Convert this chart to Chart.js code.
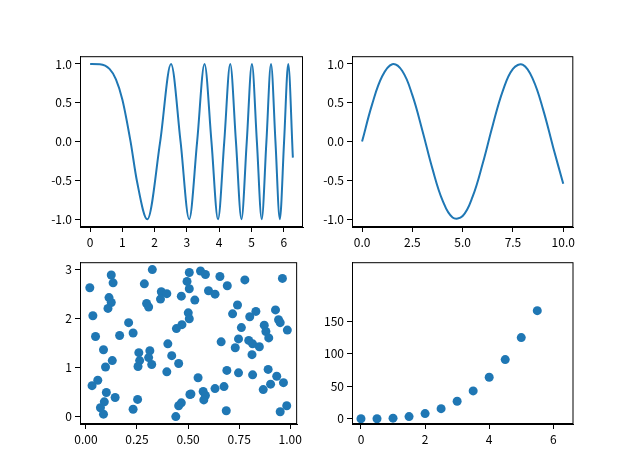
<!DOCTYPE html>
<html>
<head>
<meta charset="utf-8">
<script src="https://cdn.jsdelivr.net/npm/chart.js@4"></script>
<style>
  body { margin: 0; background: #fff; }
  #fig { position: relative; width: 640px; height: 476px; }
  #fig canvas { position: absolute; }
</style>
</head>
<body>
<div id="fig">
  <canvas id="chirp"></canvas>
  <canvas id="sine"></canvas>
  <canvas id="rand"></canvas>
  <canvas id="cube"></canvas>
</div>
<script>
"use strict";

// cos(x^2), read at its extrema and zero crossings
const chirpX = [0, 0.3, 0.6, 0.8, 1.0, 1.2533, 1.45, 1.7725, 2.1708, 2.5066, 2.8025, 3.0700, 3.3160, 3.5449,
    3.7599, 3.9633, 4.1568, 4.3416, 4.5189, 4.6895, 4.8541, 5.0133, 5.1676, 5.3174, 5.4631, 5.6050,
    5.7434, 5.8785, 6.0106, 6.1400, 6.2832];
const chirpY = [1, 0.996, 0.936, 0.802, 0.540, 0, -0.507, -1, 0, 1, 0, -1, 0, 1,
    0, -1, 0, 1, 0, -1, 0, 1, 0, -1, 0, 1,
    0, -1, 0, 1, -0.207];

// sin(x) sampled every 0.5
const sineX = [0, 0.5, 1, 1.5, 2, 2.5, 3, 3.5, 4, 4.5, 5, 5.5, 6, 6.5, 7, 7.5, 8, 8.5, 9, 9.5, 10];
const sineY = [0, 0.479, 0.841, 0.997, 0.909, 0.598, 0.141, -0.351, -0.757, -0.978, -0.959, -0.706,
    -0.279, 0.215, 0.657, 0.938, 0.989, 0.798, 0.412, -0.075, -0.544];

// scatter points
const randX = [0.019, 0.124, 0.133, 0.325, 0.286, 0.113, 0.124, 0.108, 0.034, 0.297, 0.307, 0.369, 0.396, 0.365,
    0.467, 0.506, 0.495, 0.506, 0.501, 0.506, 0.470, 0.443, 0.209, 0.231, 0.165, 0.047, 0.086, 0.129, 0.096,
    0.259, 0.313, 0.263, 0.307, 0.255, 0.322, 0.401, 0.420, 0.454, 0.396, 0.058, 0.030, 0.100, 0.143, 0.090,
    0.071, 0.086, 0.253, 0.231, 0.467, 0.454, 0.440, 0.509, 0.561, 0.585, 0.656, 0.692, 0.778, 0.962, 0.600,
    0.632, 0.533, 0.742, 0.718, 0.832, 0.802, 0.928, 0.943, 0.951, 0.986, 0.761, 0.873, 0.881, 0.895, 0.747,
    0.797, 0.816, 0.849, 0.731, 0.813, 0.662, 0.690, 0.747, 0.816, 0.892, 0.934, 0.904, 0.967, 0.868, 0.549,
    0.676, 0.632, 0.574, 0.585, 0.577, 0.514, 0.687, 0.951, 0.983];
const randY = [2.62, 2.88, 2.72, 2.99, 2.70, 2.42, 2.32, 2.20, 2.05, 2.30, 2.23, 2.54, 2.50, 2.39,
    2.45, 2.93, 2.75, 2.60, 2.11, 1.99, 1.87, 1.79, 1.91, 1.70, 1.65, 1.63, 1.36, 1.14, 1.01,
    1.30, 1.34, 1.14, 1.20, 1.02, 1.06, 1.48, 1.24, 1.08, 0.91, 0.74, 0.63, 0.49, 0.39, 0.30,
    0.18, 0.05, 0.35, 0.15, 0.28, 0.22, 0.00, 0.45, 2.96, 2.89, 2.85, 2.66, 2.78, 2.81, 2.56,
    2.49, 2.37, 2.27, 2.09, 2.14, 2.03, 2.17, 1.97, 1.91, 1.76, 1.81, 1.86, 1.73, 1.60, 1.58,
    1.55, 1.48, 1.42, 1.40, 1.26, 1.52, 0.94, 0.89, 0.85, 0.96, 0.82, 0.66, 0.69, 0.55, 0.79,
    0.61, 0.57, 0.51, 0.43, 0.34, 0.46, 0.12, 0.10, 0.22];

// cubes
const cubeX = [0, 0.5, 1, 1.5, 2, 2.5, 3, 3.5, 4, 4.5, 5, 5.5];
const cubeY = [0, 0.125, 1, 3.375, 8, 15.625, 27, 42.875, 64, 91.125, 125, 166.375];

// tick labels
const chirpXTicks = [0, 1, 2, 3, 4, 5, 6];
const unitYTicks = [-1, -0.5, 0, 0.5, 1];
const sineXTicks = [0, 2.5, 5, 7.5, 10];
const randXTicks = [0, 0.25, 0.5, 0.75, 1];
const randYTicks = [0, 1, 2, 3];
const cubeXTicks = [0, 2, 4, 6];
const cubeYTicks = [0, 50, 100, 150];

const BLUE = '#1f77b4';
const Y_AXIS_W = 40;
const X_AXIS_H = 26;
const PAD = 2;

Chart.defaults.font.family = '"Noto Sans CJK SC", "DejaVu Sans", sans-serif';
Chart.defaults.font.size = 12;
Chart.defaults.color = '#000';
Chart.defaults.animation = false;

const framePlugin = {
    id: 'frame',
    afterDraw(chart) {
        const a = chart.chartArea, ctx = chart.ctx;
        ctx.save();
        ctx.strokeStyle = '#000';
        ctx.lineWidth = 1;
        ctx.strokeRect(a.left + 0.5, a.top + 0.5, a.right - a.left - 1, a.bottom - a.top - 1);
        ctx.restore();
    }
};

function pts(xs, ys) {
    return xs.map((x, i) => ({ x: x, y: ys[i] }));
}

function axis(min, max, ticks, fmt, isY) {
    return {
        type: 'linear',
        min: min,
        max: max,
        afterBuildTicks: s => { s.ticks = ticks.map(v => ({ value: v })); },
        afterFit: s => { if (isY) s.width = Y_AXIS_W; else s.height = X_AXIS_H; },
        grid: { drawOnChartArea: false, drawTicks: true, tickLength: 5, color: '#000' },
        border: { display: true, color: '#000' },
        ticks: { padding: 3, maxRotation: 0, autoSkip: false, callback: v => fmt(v) }
    };
}

// size and place a canvas so that its plot area lands on the given box
function place(id, left, top, w, h) {
    const el = document.getElementById(id);
    el.style.left = (left - Y_AXIS_W) + 'px';
    el.style.top = (top - PAD) + 'px';
    el.width = w + Y_AXIS_W + PAD;
    el.height = h + X_AXIS_H + PAD;
}

function plot(canvasId, datasets, xAxis, yAxis) {
    new Chart(document.getElementById(canvasId), {
        type: 'scatter',
        data: { datasets: datasets },
        options: {
            responsive: false,
            devicePixelRatio: 1,
            layout: { padding: { top: PAD, right: PAD, left: 0, bottom: 0 } },
            plugins: { legend: { display: false }, tooltip: { enabled: false } },
            scales: { x: xAxis, y: yAxis }
        },
        plugins: [framePlugin]
    });
}

const dotStyle = { backgroundColor: BLUE, borderColor: BLUE, pointRadius: 4.5, borderWidth: 0 };
const lineBase = { showLine: true, borderColor: BLUE, borderWidth: 2, pointRadius: 0 };

place('chirp', 80, 48, 223, 179);
place('sine', 352, 48, 224, 179);
place('rand', 80, 254, 223, 170);
place('cube', 352, 254, 224, 170);

plot('chirp', [Object.assign({ data: pts(chirpX, chirpY), cubicInterpolationMode: 'monotone' }, lineBase)],
    axis(-0.314, 6.597, chirpXTicks, v => String(v), false),
    axis(-1.1, 1.1, unitYTicks, v => v.toFixed(1), true));

plot('sine', [Object.assign({ data: pts(sineX, sineY), tension: 0.4 }, lineBase)],
    axis(-0.5, 10.5, sineXTicks, v => v.toFixed(1), false),
    axis(-1.1, 1.1, unitYTicks, v => v.toFixed(1), true));

plot('rand', [Object.assign({ data: pts(randX, randY) }, dotStyle)],
    axis(-0.029, 1.034, randXTicks, v => v.toFixed(2), false),
    axis(-0.15, 3.14, randYTicks, v => String(v), true));

plot('cube', [Object.assign({ data: pts(cubeX, cubeY) }, dotStyle)],
    axis(-0.28, 6.63, cubeXTicks, v => String(v), false),
    axis(-8, 241, cubeYTicks, v => String(v), true));
</script>
</body>
</html>
